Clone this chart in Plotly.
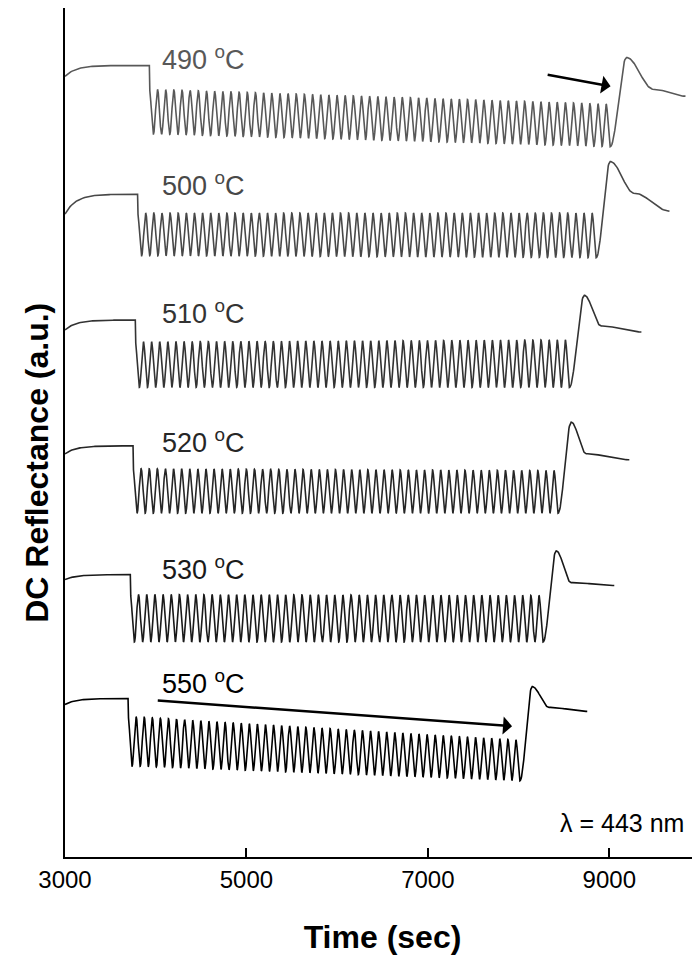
import numpy as np
import plotly.graph_objects as go

# reflectance traces (time in sec, reflectance in a.u.)
temps = ["490", "500", "510", "520", "530", "550"]
colors = ["#585858", "#484848", "#333333", "#262626", "#1a1a1a", "#000000"]
t_drop = [3930, 3800, 3775, 3750, 3720, 3695]
t_end = [9010, 8855, 8560, 8435, 8270, 8015]
t_peak = [9190, 9010, 8725, 8580, 8415, 8150]
t_shoulder = [9486, 9276, 8912, 8746, 8580, 8337]
t_tail = [9840, 9663, 9354, 9221, 9055, 8757]
n_cycles = [56, 56, 53, 52, 50, 48]
y_start = [788, 649, 532, 407, 280, 154]
y_plateau = [799, 669, 542, 415, 285, 160]
top_start = [775, 650, 520, 392, 265, 142]
top_end = [760, 650, 522, 390, 264, 118]
bot_start = [730, 607, 474, 347, 217, 92]
bot_end = [717, 605, 474, 347, 217, 77]
y_peak = [807, 702, 567, 439, 309, 172]
y_shoulder = [775, 670, 536, 407, 277, 151]
y_tail = [768, 652, 530, 401, 274, 147]
label_y = [807, 679, 550, 420, 292, 177]


def smooth(a, b, f):
    return a + (b - a) * (1 - np.cos(np.pi * f)) / 2


fig = go.Figure()
for i in range(len(temps)):
    P = (t_end[i] - t_drop[i]) / (n_cycles[i] + 0.5)
    # plateau
    t1 = np.linspace(3000, t_drop[i], 60)
    y1 = y_plateau[i] + (y_start[i] - y_plateau[i]) * np.exp(-(t1 - 3000) / 120)
    # oscillation
    t2 = np.linspace(t_drop[i] + 5, t_end[i], 4000)
    f = (t2 - t_drop[i]) / (t_end[i] - t_drop[i])
    top = top_start[i] + (top_end[i] - top_start[i]) * f
    bot = bot_start[i] + (bot_end[i] - bot_start[i]) * f
    y2 = (top + bot) / 2 + (top - bot) / 2 * np.cos(2 * np.pi * (t2 - t_drop[i]) / P)
    # recovery peak
    t3 = np.linspace(t_end[i], t_peak[i], 30)
    y3 = smooth(bot_end[i], y_peak[i], (t3 - t_end[i]) / (t_peak[i] - t_end[i]))
    t4 = np.linspace(t_peak[i], t_shoulder[i], 40)
    y4 = smooth(y_peak[i], y_shoulder[i], (t4 - t_peak[i]) / (t_shoulder[i] - t_peak[i]))
    t5 = np.linspace(t_shoulder[i], t_tail[i], 30)
    y5 = smooth(y_shoulder[i], y_tail[i], (t5 - t_shoulder[i]) / (t_tail[i] - t_shoulder[i]))
    t = np.concatenate([t1, t2, t3, t4, t5])
    y = np.concatenate([y1, y2, y3, y4, y5])
    fig.add_trace(go.Scatter(x=t, y=y, mode="lines", line=dict(color=colors[i], width=1.6),
                             showlegend=False, hoverinfo="skip"))
    fig.add_annotation(x=4050, y=label_y[i], text=temps[i] + " <sup>o</sup>C", showarrow=False,
                       xanchor="left", font=dict(size=27, color=colors[i]))

# arrows
fig.add_annotation(x=9014, y=778, ax=8304, ay=790, axref="x", ayref="y", text="",
                   showarrow=True, arrowhead=1, arrowsize=1.2, arrowwidth=2.5, arrowcolor="black")
fig.add_annotation(x=7928, y=132, ax=4006, ay=158, axref="x", ayref="y", text="",
                   showarrow=True, arrowhead=1, arrowsize=1.2, arrowwidth=2.5, arrowcolor="black")
fig.add_annotation(x=9850, y=34, text="λ = 443 nm", showarrow=False, xanchor="right",
                   font=dict(size=25, color="black"))
fig.add_annotation(x=-0.076, y=0.464, xref="paper", yref="paper", text="<b>DC Reflectance (a.u.)</b>",
                   textangle=-90, showarrow=False, font=dict(size=32, color="black"))

fig.update_layout(
    width=692, height=950, plot_bgcolor="white", paper_bgcolor="white",
    margin=dict(l=57, r=0, t=0, b=101),
    font=dict(family="Liberation Sans, Arial", color="black"),
    xaxis=dict(range=[3000, 10000], tickvals=[3000, 5000, 7000, 9000], ticks="inside", ticklen=9,
               tickwidth=2, tickcolor="black", showline=True, linecolor="black", linewidth=2,
               showgrid=False, zeroline=False, tickfont=dict(size=24), automargin=False,
               title=dict(text="<b>Time (sec)</b>", font=dict(size=32), standoff=34)),
    yaxis=dict(range=[0, 857], showticklabels=False, ticks="", showline=True, linecolor="black",
               linewidth=2, showgrid=False, zeroline=False, automargin=False),
)
fig.write_html("out.html")
